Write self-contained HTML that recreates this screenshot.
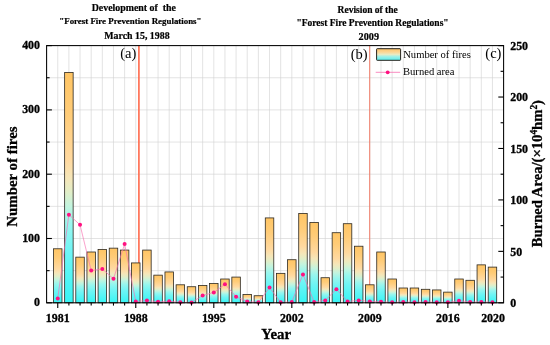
<!DOCTYPE html>
<html lang="en"><head><meta charset="utf-8"><title>Forest fires 1981-2020</title>
<style>html,body{margin:0;padding:0;background:#fff}svg{display:block}text{font-family:"Liberation Serif","Times New Roman",serif;fill:#000}.b{font-weight:bold}.tk{font-weight:bold;font-size:11.9px;stroke:#000;stroke-width:.3px}.ti{font-weight:bold;stroke:#000;stroke-width:.2px}.ax{font-weight:bold;font-size:14.9px;stroke:#000;stroke-width:.3px}.pl{font-size:14.5px}.lg{font-size:10.6px}</style></head><body>
<svg width="550" height="345" viewBox="0 0 550 345">
<defs>
<linearGradient id="gt" x1="0" y1="0" x2="0" y2="1">
<stop offset="0%" stop-color="rgb(255,197,100)"/>
<stop offset="18%" stop-color="rgb(255,204,120)"/>
<stop offset="38%" stop-color="rgb(255,217,160)"/>
<stop offset="46%" stop-color="rgb(245,230,185)"/>
<stop offset="52%" stop-color="rgb(225,238,200)"/>
<stop offset="58%" stop-color="rgb(195,244,222)"/>
<stop offset="66%" stop-color="rgb(152,246,238)"/>
<stop offset="78%" stop-color="rgb(110,245,245)"/>
<stop offset="100%" stop-color="rgb(55,245,245)"/>
</linearGradient>
<linearGradient id="g" x1="0" y1="0" x2="0" y2="1">
<stop offset="0%" stop-color="rgb(255,197,100)"/>
<stop offset="17%" stop-color="rgb(255,204,120)"/>
<stop offset="37%" stop-color="rgb(255,217,160)"/>
<stop offset="45%" stop-color="rgb(245,230,185)"/>
<stop offset="51%" stop-color="rgb(225,238,200)"/>
<stop offset="57%" stop-color="rgb(195,244,222)"/>
<stop offset="65%" stop-color="rgb(152,246,238)"/>
<stop offset="77%" stop-color="rgb(110,245,245)"/>
<stop offset="100%" stop-color="rgb(55,245,245)"/>
</linearGradient>
<linearGradient id="gs" x1="0" y1="0" x2="0" y2="1">
<stop offset="0%" stop-color="rgb(255,197,100)"/>
<stop offset="17%" stop-color="rgb(255,204,120)"/>
<stop offset="37%" stop-color="rgb(255,217,160)"/>
<stop offset="45%" stop-color="rgb(245,230,185)"/>
<stop offset="51%" stop-color="rgb(225,238,200)"/>
<stop offset="57%" stop-color="rgb(195,244,222)"/>
<stop offset="65%" stop-color="rgb(152,246,238)"/>
<stop offset="77%" stop-color="rgb(110,245,245)"/>
<stop offset="100%" stop-color="rgb(55,245,245)"/>
</linearGradient>
<linearGradient id="lg" x1="0" y1="0" x2="0" y2="1"><stop offset="0%" stop-color="rgb(252,196,108)"/><stop offset="30%" stop-color="rgb(252,214,150)"/><stop offset="50%" stop-color="rgb(232,234,196)"/><stop offset="68%" stop-color="rgb(160,240,232)"/><stop offset="100%" stop-color="rgb(90,236,238)"/></linearGradient></defs>
<rect width="550" height="345" fill="#fff"/>
<g stroke="#d0d0d0" stroke-width="0.6" fill="none">
<line x1="57.75" y1="45.6" x2="57.75" y2="302.8"/>
<line x1="68.89" y1="45.6" x2="68.89" y2="302.8"/>
<line x1="80.04" y1="45.6" x2="80.04" y2="302.8"/>
<line x1="91.19" y1="45.6" x2="91.19" y2="302.8"/>
<line x1="102.33" y1="45.6" x2="102.33" y2="302.8"/>
<line x1="113.48" y1="45.6" x2="113.48" y2="302.8"/>
<line x1="124.62" y1="45.6" x2="124.62" y2="302.8"/>
<line x1="135.77" y1="45.6" x2="135.77" y2="302.8"/>
<line x1="146.92" y1="45.6" x2="146.92" y2="302.8"/>
<line x1="158.06" y1="45.6" x2="158.06" y2="302.8"/>
<line x1="169.21" y1="45.6" x2="169.21" y2="302.8"/>
<line x1="180.36" y1="45.6" x2="180.36" y2="302.8"/>
<line x1="191.5" y1="45.6" x2="191.5" y2="302.8"/>
<line x1="202.65" y1="45.6" x2="202.65" y2="302.8"/>
<line x1="213.8" y1="45.6" x2="213.8" y2="302.8"/>
<line x1="224.94" y1="45.6" x2="224.94" y2="302.8"/>
<line x1="236.09" y1="45.6" x2="236.09" y2="302.8"/>
<line x1="247.23" y1="45.6" x2="247.23" y2="302.8"/>
<line x1="258.38" y1="45.6" x2="258.38" y2="302.8"/>
<line x1="269.53" y1="45.6" x2="269.53" y2="302.8"/>
<line x1="280.67" y1="45.6" x2="280.67" y2="302.8"/>
<line x1="291.82" y1="45.6" x2="291.82" y2="302.8"/>
<line x1="302.97" y1="45.6" x2="302.97" y2="302.8"/>
<line x1="314.11" y1="45.6" x2="314.11" y2="302.8"/>
<line x1="325.26" y1="45.6" x2="325.26" y2="302.8"/>
<line x1="336.4" y1="45.6" x2="336.4" y2="302.8"/>
<line x1="347.55" y1="45.6" x2="347.55" y2="302.8"/>
<line x1="358.7" y1="45.6" x2="358.7" y2="302.8"/>
<line x1="369.84" y1="45.6" x2="369.84" y2="302.8"/>
<line x1="380.99" y1="45.6" x2="380.99" y2="302.8"/>
<line x1="392.14" y1="45.6" x2="392.14" y2="302.8"/>
<line x1="403.28" y1="45.6" x2="403.28" y2="302.8"/>
<line x1="414.43" y1="45.6" x2="414.43" y2="302.8"/>
<line x1="425.58" y1="45.6" x2="425.58" y2="302.8"/>
<line x1="436.72" y1="45.6" x2="436.72" y2="302.8"/>
<line x1="447.87" y1="45.6" x2="447.87" y2="302.8"/>
<line x1="459.01" y1="45.6" x2="459.01" y2="302.8"/>
<line x1="470.16" y1="45.6" x2="470.16" y2="302.8"/>
<line x1="481.31" y1="45.6" x2="481.31" y2="302.8"/>
<line x1="492.45" y1="45.6" x2="492.45" y2="302.8"/>
<line x1="46.6" y1="270.65" x2="503.6" y2="270.65"/>
<line x1="46.6" y1="238.5" x2="503.6" y2="238.5"/>
<line x1="46.6" y1="206.35" x2="503.6" y2="206.35"/>
<line x1="46.6" y1="174.2" x2="503.6" y2="174.2"/>
<line x1="46.6" y1="142.05" x2="503.6" y2="142.05"/>
<line x1="46.6" y1="109.9" x2="503.6" y2="109.9"/>
<line x1="46.6" y1="77.75" x2="503.6" y2="77.75"/>
</g>
<line x1="138.9" y1="45.6" x2="138.9" y2="302.8" stroke="#ff7256" stroke-width="1.7"/>
<line x1="369.7" y1="45.6" x2="369.7" y2="302.8" stroke="#f26c54" stroke-width="0.85"/>
<g fill="url(#g)" stroke="#2c2821" stroke-width="0.8">
<rect x="53.5" y="248.79" width="8.5" height="54.01" fill="url(#gs)"/>
<rect x="64.64" y="72.48" width="8.5" height="230.32" fill="url(#gt)"/>
<rect x="75.79" y="257.15" width="8.5" height="45.65" fill="url(#gs)"/>
<rect x="86.94" y="252" width="8.5" height="50.8" fill="url(#gs)"/>
<rect x="98.08" y="249.43" width="8.5" height="53.37" fill="url(#gs)"/>
<rect x="109.23" y="248.15" width="8.5" height="54.66" fill="url(#gs)"/>
<rect x="120.37" y="250.07" width="8.5" height="52.73" fill="url(#gs)"/>
<rect x="131.52" y="262.93" width="8.5" height="39.87" fill="url(#gs)"/>
<rect x="142.67" y="250.07" width="8.5" height="52.73" fill="url(#gs)"/>
<rect x="153.81" y="275.15" width="8.5" height="27.65" fill="url(#gs)"/>
<rect x="164.96" y="271.94" width="8.5" height="30.86" fill="url(#gs)"/>
<rect x="176.11" y="284.8" width="8.5" height="18" fill="url(#gs)"/>
<rect x="187.25" y="286.73" width="8.5" height="16.07" fill="url(#gs)"/>
<rect x="198.4" y="285.44" width="8.5" height="17.36" fill="url(#gs)"/>
<rect x="209.55" y="283.51" width="8.5" height="19.29" fill="url(#gs)"/>
<rect x="220.69" y="279.01" width="8.5" height="23.79" fill="url(#gs)"/>
<rect x="231.84" y="277.08" width="8.5" height="25.72" fill="url(#gs)"/>
<rect x="242.98" y="294.44" width="8.5" height="8.36" fill="url(#gs)"/>
<rect x="254.13" y="295.73" width="8.5" height="7.07" fill="url(#gs)"/>
<rect x="265.28" y="217.92" width="8.5" height="84.88"/>
<rect x="276.42" y="273.35" width="8.5" height="29.45" fill="url(#gs)"/>
<rect x="287.57" y="259.72" width="8.5" height="43.08" fill="url(#gs)"/>
<rect x="298.72" y="213.42" width="8.5" height="89.38"/>
<rect x="309.86" y="222.43" width="8.5" height="80.38"/>
<rect x="321.01" y="277.72" width="8.5" height="25.08" fill="url(#gs)"/>
<rect x="332.15" y="232.71" width="8.5" height="70.09"/>
<rect x="343.3" y="223.71" width="8.5" height="79.09"/>
<rect x="354.45" y="246.22" width="8.5" height="56.58" fill="url(#gs)"/>
<rect x="365.59" y="284.8" width="8.5" height="18" fill="url(#gs)"/>
<rect x="376.74" y="252" width="8.5" height="50.8" fill="url(#gs)"/>
<rect x="387.89" y="279.01" width="8.5" height="23.79" fill="url(#gs)"/>
<rect x="399.03" y="288.01" width="8.5" height="14.79" fill="url(#gs)"/>
<rect x="410.18" y="288.01" width="8.5" height="14.79" fill="url(#gs)"/>
<rect x="421.33" y="289.3" width="8.5" height="13.5" fill="url(#gs)"/>
<rect x="432.47" y="289.94" width="8.5" height="12.86" fill="url(#gs)"/>
<rect x="443.62" y="292.13" width="8.5" height="10.67" fill="url(#gs)"/>
<rect x="454.76" y="279.01" width="8.5" height="23.79" fill="url(#gs)"/>
<rect x="465.91" y="280.3" width="8.5" height="22.5" fill="url(#gs)"/>
<rect x="477.06" y="264.86" width="8.5" height="37.94" fill="url(#gs)"/>
<rect x="488.2" y="267.11" width="8.5" height="35.69" fill="url(#gs)"/>
</g>
<polyline points="57.75,298.38 68.89,214.63 80.04,224.82 91.19,270.6 102.33,268.95 113.48,278.83 124.62,243.95 135.77,301.62 146.92,300.59 158.06,301.82 169.21,301.21 180.36,302.34 191.5,302.44 202.65,295.6 213.8,292.41 224.94,284.18 236.09,296.63 247.23,301.51 258.38,302.34 269.53,287.57 280.67,302.34 291.82,301.93 302.97,274.41 314.11,301.93 325.26,300.38 336.4,289.22 347.55,301.51 358.7,300.38 369.84,301.51 380.99,301.72 392.14,302.34 403.28,301.93 414.43,302.34 425.58,301.93 436.72,302.23 447.87,302.34 459.01,300.79 470.16,301.93 481.31,301.93 492.45,302.23" fill="none" stroke="#f76fb0" stroke-width="0.65" stroke-linejoin="round"/>
<g fill="#ff1180">
<circle cx="57.75" cy="298.38" r="2"/>
<circle cx="68.89" cy="214.63" r="2"/>
<circle cx="80.04" cy="224.82" r="2"/>
<circle cx="91.19" cy="270.6" r="2"/>
<circle cx="102.33" cy="268.95" r="2"/>
<circle cx="113.48" cy="278.83" r="2"/>
<circle cx="124.62" cy="243.95" r="2"/>
<circle cx="135.77" cy="301.62" r="2"/>
<circle cx="146.92" cy="300.59" r="2"/>
<circle cx="158.06" cy="301.82" r="2"/>
<circle cx="169.21" cy="301.21" r="2"/>
<circle cx="180.36" cy="302.34" r="2"/>
<circle cx="191.5" cy="302.44" r="2"/>
<circle cx="202.65" cy="295.6" r="2"/>
<circle cx="213.8" cy="292.41" r="2"/>
<circle cx="224.94" cy="284.18" r="2"/>
<circle cx="236.09" cy="296.63" r="2"/>
<circle cx="247.23" cy="301.51" r="2"/>
<circle cx="258.38" cy="302.34" r="2"/>
<circle cx="269.53" cy="287.57" r="2"/>
<circle cx="280.67" cy="302.34" r="2"/>
<circle cx="291.82" cy="301.93" r="2"/>
<circle cx="302.97" cy="274.41" r="2"/>
<circle cx="314.11" cy="301.93" r="2"/>
<circle cx="325.26" cy="300.38" r="2"/>
<circle cx="336.4" cy="289.22" r="2"/>
<circle cx="347.55" cy="301.51" r="2"/>
<circle cx="358.7" cy="300.38" r="2"/>
<circle cx="369.84" cy="301.51" r="2"/>
<circle cx="380.99" cy="301.72" r="2"/>
<circle cx="392.14" cy="302.34" r="2"/>
<circle cx="403.28" cy="301.93" r="2"/>
<circle cx="414.43" cy="302.34" r="2"/>
<circle cx="425.58" cy="301.93" r="2"/>
<circle cx="436.72" cy="302.23" r="2"/>
<circle cx="447.87" cy="302.34" r="2"/>
<circle cx="459.01" cy="300.79" r="2"/>
<circle cx="470.16" cy="301.93" r="2"/>
<circle cx="481.31" cy="301.93" r="2"/>
<circle cx="492.45" cy="302.23" r="2"/>
</g>
<rect x="46.6" y="45.6" width="457" height="257.2" fill="none" stroke="#000" stroke-width="1.05"/>
<g stroke="#000" stroke-width="1.1">
<line x1="46.6" y1="302.8" x2="51.9" y2="302.8"/>
<line x1="46.6" y1="270.65" x2="49.6" y2="270.65"/>
<line x1="46.6" y1="238.5" x2="51.9" y2="238.5"/>
<line x1="46.6" y1="206.35" x2="49.6" y2="206.35"/>
<line x1="46.6" y1="174.2" x2="51.9" y2="174.2"/>
<line x1="46.6" y1="142.05" x2="49.6" y2="142.05"/>
<line x1="46.6" y1="109.9" x2="51.9" y2="109.9"/>
<line x1="46.6" y1="77.75" x2="49.6" y2="77.75"/>
<line x1="46.6" y1="45.6" x2="51.9" y2="45.6"/>
<line x1="503.6" y1="302.8" x2="498.3" y2="302.8"/>
<line x1="503.6" y1="277.08" x2="500.6" y2="277.08"/>
<line x1="503.6" y1="251.36" x2="498.3" y2="251.36"/>
<line x1="503.6" y1="225.64" x2="500.6" y2="225.64"/>
<line x1="503.6" y1="199.92" x2="498.3" y2="199.92"/>
<line x1="503.6" y1="174.2" x2="500.6" y2="174.2"/>
<line x1="503.6" y1="148.48" x2="498.3" y2="148.48"/>
<line x1="503.6" y1="122.76" x2="500.6" y2="122.76"/>
<line x1="503.6" y1="97.04" x2="498.3" y2="97.04"/>
<line x1="503.6" y1="71.32" x2="500.6" y2="71.32"/>
<line x1="503.6" y1="45.6" x2="498.3" y2="45.6"/>
<line x1="57.75" y1="302.8" x2="57.75" y2="308.1"/>
<line x1="68.89" y1="302.8" x2="68.89" y2="305.6"/>
<line x1="80.04" y1="302.8" x2="80.04" y2="305.6"/>
<line x1="91.19" y1="302.8" x2="91.19" y2="305.6"/>
<line x1="102.33" y1="302.8" x2="102.33" y2="305.6"/>
<line x1="113.48" y1="302.8" x2="113.48" y2="305.6"/>
<line x1="124.62" y1="302.8" x2="124.62" y2="305.6"/>
<line x1="135.77" y1="302.8" x2="135.77" y2="308.1"/>
<line x1="146.92" y1="302.8" x2="146.92" y2="305.6"/>
<line x1="158.06" y1="302.8" x2="158.06" y2="305.6"/>
<line x1="169.21" y1="302.8" x2="169.21" y2="305.6"/>
<line x1="180.36" y1="302.8" x2="180.36" y2="305.6"/>
<line x1="191.5" y1="302.8" x2="191.5" y2="305.6"/>
<line x1="202.65" y1="302.8" x2="202.65" y2="305.6"/>
<line x1="213.8" y1="302.8" x2="213.8" y2="308.1"/>
<line x1="224.94" y1="302.8" x2="224.94" y2="305.6"/>
<line x1="236.09" y1="302.8" x2="236.09" y2="305.6"/>
<line x1="247.23" y1="302.8" x2="247.23" y2="305.6"/>
<line x1="258.38" y1="302.8" x2="258.38" y2="305.6"/>
<line x1="269.53" y1="302.8" x2="269.53" y2="305.6"/>
<line x1="280.67" y1="302.8" x2="280.67" y2="305.6"/>
<line x1="291.82" y1="302.8" x2="291.82" y2="308.1"/>
<line x1="302.97" y1="302.8" x2="302.97" y2="305.6"/>
<line x1="314.11" y1="302.8" x2="314.11" y2="305.6"/>
<line x1="325.26" y1="302.8" x2="325.26" y2="305.6"/>
<line x1="336.4" y1="302.8" x2="336.4" y2="305.6"/>
<line x1="347.55" y1="302.8" x2="347.55" y2="305.6"/>
<line x1="358.7" y1="302.8" x2="358.7" y2="305.6"/>
<line x1="369.84" y1="302.8" x2="369.84" y2="308.1"/>
<line x1="380.99" y1="302.8" x2="380.99" y2="305.6"/>
<line x1="392.14" y1="302.8" x2="392.14" y2="305.6"/>
<line x1="403.28" y1="302.8" x2="403.28" y2="305.6"/>
<line x1="414.43" y1="302.8" x2="414.43" y2="305.6"/>
<line x1="425.58" y1="302.8" x2="425.58" y2="305.6"/>
<line x1="436.72" y1="302.8" x2="436.72" y2="305.6"/>
<line x1="447.87" y1="302.8" x2="447.87" y2="308.1"/>
<line x1="459.01" y1="302.8" x2="459.01" y2="305.6"/>
<line x1="470.16" y1="302.8" x2="470.16" y2="305.6"/>
<line x1="481.31" y1="302.8" x2="481.31" y2="305.6"/>
<line x1="492.45" y1="302.8" x2="492.45" y2="305.6"/>
</g>
<text class="tk" x="40" y="306.3" text-anchor="end">0</text>
<text class="tk" x="40" y="242" text-anchor="end">100</text>
<text class="tk" x="40" y="177.7" text-anchor="end">200</text>
<text class="tk" x="40" y="113.4" text-anchor="end">300</text>
<text class="tk" x="40" y="49.1" text-anchor="end">400</text>
<text class="tk" x="510.2" y="307">0</text>
<text class="tk" x="510.2" y="255.56">50</text>
<text class="tk" x="510.2" y="204.12">100</text>
<text class="tk" x="510.2" y="152.68">150</text>
<text class="tk" x="510.2" y="101.24">200</text>
<text class="tk" x="510.2" y="49.8">250</text>
<text class="tk" x="57.75" y="321.6" text-anchor="middle">1981</text>
<text class="tk" x="135.77" y="321.6" text-anchor="middle">1988</text>
<text class="tk" x="213.8" y="321.6" text-anchor="middle">1995</text>
<text class="tk" x="291.82" y="321.6" text-anchor="middle">2002</text>
<text class="tk" x="369.84" y="321.6" text-anchor="middle">2009</text>
<text class="tk" x="447.87" y="321.6" text-anchor="middle">2016</text>
<text class="tk" x="493.05" y="321.6" text-anchor="middle">2020</text>
<text class="ax" transform="translate(17.2,176.6) rotate(-90)" text-anchor="middle">Number of fires</text>
<text class="ax" x="276.2" y="339.3" text-anchor="middle">Year</text>
<text class="ax" style="font-size:14.65px" transform="translate(541.9,173.6) rotate(-90)" text-anchor="middle">Burned Area/(×10<tspan font-size="9.4px" dy="-5">4</tspan><tspan dy="5">hm</tspan><tspan font-size="9.4px" dy="-5">2</tspan><tspan dy="5">)</tspan></text>
<text class="ti" font-size="9.9px" x="133.8" y="11.1" text-anchor="middle" xml:space="preserve">Development of  the</text>
<text class="ti" font-size="8.9px" x="130.4" y="24" text-anchor="middle">"Forest Fire Prevention Regulations"</text>
<text class="ti" font-size="9.9px" x="136.9" y="39.2" text-anchor="middle">March 15, 1988</text>
<text class="ti" font-size="9.5px" x="367.7" y="12.7" text-anchor="middle">Revision of the</text>
<text class="ti" font-size="9.5px" x="372.5" y="25.6" text-anchor="middle">"Forest Fire Prevention Regulations"</text>
<text class="ti" font-size="10.2px" x="368.8" y="40" text-anchor="middle">2009</text>
<text class="pl" x="128.3" y="57.7" text-anchor="middle">(a)</text>
<text class="pl" x="359.2" y="58.8" text-anchor="middle">(b)</text>
<text class="pl" x="493.4" y="58.3" text-anchor="middle">(c)</text>
<rect x="376.6" y="48.7" width="24" height="11.6" rx="0.6" fill="url(#lg)" stroke="#26231c" stroke-width="1"/>
<line x1="375.7" y1="72.3" x2="400.2" y2="72.3" stroke="#f76fb0" stroke-width="0.8"/>
<circle cx="387.7" cy="72.3" r="1.9" fill="#ff1180"/>
<text class="lg" x="403.2" y="57.7">Number of fires</text>
<text class="lg" x="403" y="75.3">Burned area</text>
</svg></body></html>
